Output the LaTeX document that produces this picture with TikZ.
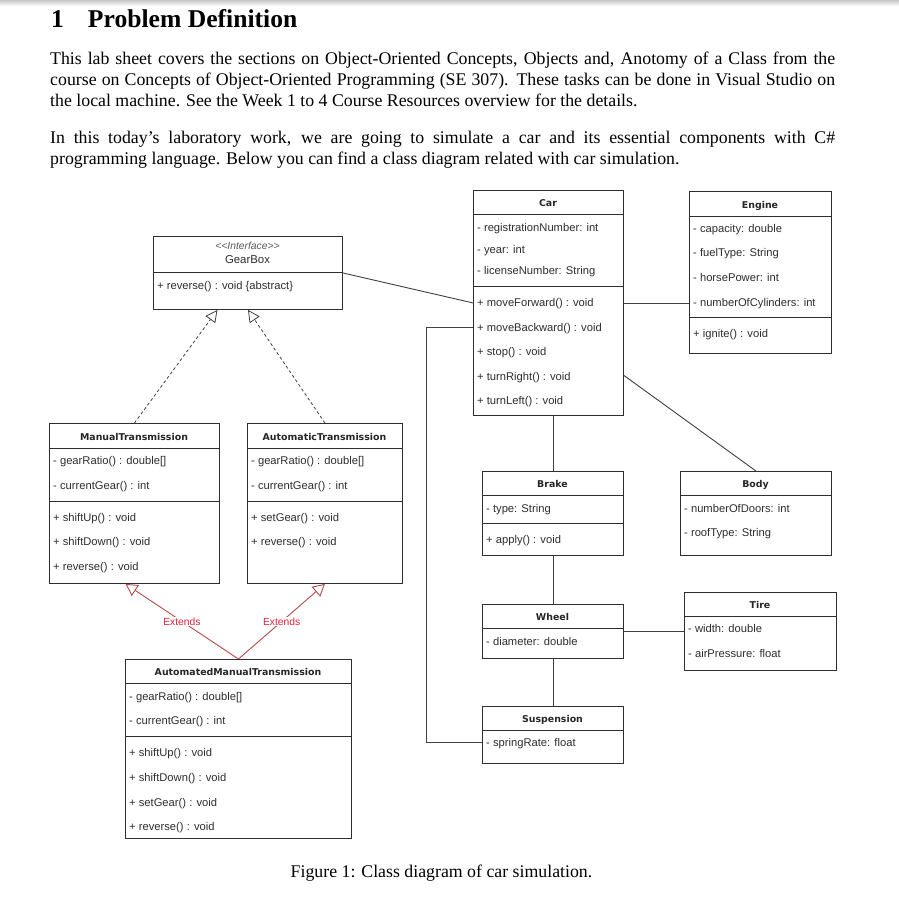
\documentclass[tikz,border=0pt]{standalone}
\usepackage{fontspec}
\setmainfont{Liberation Serif}
\setsansfont{Liberation Sans}
\newfontfamily\hdrfont{DejaVu Sans}
\usetikzlibrary{arrows.meta}
\definecolor{ink}{HTML}{2E2E2E}
\definecolor{lineg}{HTML}{404040}
\definecolor{extline}{HTML}{B84A4A}
\definecolor{exttext}{HTML}{D9243A}
\newcounter{tn}
\newcommand\tline[3]{\stepcounter{tn}\node[attr] (t\arabic{tn}) at (#1,#2+4) {#3};}
\newcommand\cbox[5]{\node[classbox, minimum width={#4-#2}, minimum height={#5-#3}] (#1) at (#2,#3) {};}
\begin{document}
\begin{tikzpicture}[x=1pt,y=-1pt,
  classbox/.style={draw=ink, line width=0.9pt, inner sep=0pt, anchor=north west, fill=white},
  attr/.style={anchor=base west, inner sep=0pt, text=ink, font=\sffamily\fontsize{11.2}{13}\selectfont},
  hdr/.style={anchor=base, inner sep=0pt, text=black!85, font=\hdrfont\bfseries\fontsize{9.4}{11}\selectfont},
  sepline/.style={draw=ink, line width=0.8pt},
  assoc/.style={draw=lineg, line width=0.9pt},
  realize/.style={draw=lineg, line width=0.8pt, dash pattern=on 3pt off 2.5pt, -{Triangle[length=12pt,width=12pt,fill=white]}},
  extends/.style={draw=extline, line width=0.9pt, -{Triangle[length=12pt,width=13pt,fill=white]}},
  extlbl/.style={fill=white, inner sep=1pt, text=exttext, font=\sffamily\fontsize{10.3}{12}\selectfont},
  bodyt/.style={anchor=base west, inner sep=0pt, font=\fontsize{17.8}{21}\selectfont}
]
\useasboundingbox (0,0) rectangle (899,905);
\fill[white] (0,0) rectangle (899,905);
\shade[top color=black!22, bottom color=white] (0,0) rectangle (899,6);

% ---------- text ----------
\node[anchor=base west, inner sep=0pt, font=\bfseries\fontsize{25.6}{30}\selectfont] (title) at (51,27) {1\hspace{24pt}Problem Definition};
\node[bodyt] (p1) at (50,64) {\makebox[785pt][s]{This lab sheet covers the sections on Object-Oriented Concepts, Objects and, Anotomy of a Class from the}};
\node[bodyt] (p2) at (50,85) {\makebox[785pt][s]{course on Concepts of Object-Oriented Programming (SE 307). These tasks can be done in Visual Studio on}};
\node[bodyt] (p3) at (50,106) {the local machine. See the Week 1 to 4 Course Resources overview for the details.};
\node[bodyt] (p4) at (50,143) {\makebox[785pt][s]{In this today’s laboratory work, we are going to simulate a car and its essential components with C\#}};
\node[bodyt] (p5) at (50,164) {programming language. Below you can find a class diagram related with car simulation.};
\node[bodyt, anchor=base] (cap) at (441.5,877) {Figure 1: Class diagram of car simulation.};

% ---------- classes ----------
% GearBox
\cbox{gearbox}{153}{236}{342}{309}
\draw[sepline] (153,272) -- (342,272);
\node[anchor=base, inner sep=0pt, text=black!65, font=\sffamily\itshape\fontsize{10.3}{11}\selectfont] (gbst) at (247.5,249.5) {{<}{<}Interface{>}{>}};
\node[anchor=base, inner sep=0pt, text=ink, font=\sffamily\fontsize{11.4}{13}\selectfont] (gbname) at (247.5,263.5) {GearBox};
\tline{157}{285}{+ reverse() : void \{abstract\}}

% Car
\cbox{car}{473}{190}{623}{415}
\draw[sepline] (473,214) -- (623,214);
\draw[sepline] (473,286) -- (623,286);
\node[hdr] (carh) at (548,206.5) {Car};
\tline{477}{227}{- registrationNumber: int}
\tline{477}{249}{- year: int}
\tline{477}{270}{- licenseNumber: String}
\tline{477}{302}{+ moveForward() : void}
\tline{477}{327}{+ moveBackward() : void}
\tline{477}{351}{+ stop() : void}
\tline{477}{376}{+ turnRight() : void}
\tline{477}{400}{+ turnLeft() : void}

% Engine
\cbox{engine}{689}{191}{831}{353}
\draw[sepline] (689,216) -- (831,216);
\draw[sepline] (689,317) -- (831,317);
\node[hdr] (engh) at (760,208) {Engine};
\tline{693}{228}{- capacity: double}
\tline{693}{252}{- fuelType: String}
\tline{693}{277}{- horsePower: int}
\tline{693}{302}{- numberOfCylinders: int}
\tline{693}{333}{+ ignite() : void}

% ManualTransmission
\cbox{manual}{49}{423}{219}{583}
\draw[sepline] (49,448) -- (219,448);
\draw[sepline] (49,501) -- (219,501);
\node[hdr] (manh) at (134,440) {ManualTransmission};
\tline{53}{460}{- gearRatio() : double[]}
\tline{53}{485}{- currentGear() : int}
\tline{53}{517}{+ shiftUp() : void}
\tline{53}{541}{+ shiftDown() : void}
\tline{53}{566}{+ reverse() : void}

% AutomaticTransmission
\cbox{auto}{247}{423}{402}{583}
\draw[sepline] (247,448) -- (402,448);
\draw[sepline] (247,501) -- (402,501);
\node[hdr] (autoh) at (324.5,440) {AutomaticTransmission};
\tline{251}{460}{- gearRatio() : double[]}
\tline{251}{485}{- currentGear() : int}
\tline{251}{517}{+ setGear() : void}
\tline{251}{541}{+ reverse() : void}

% Brake
\cbox{brake}{482}{471}{623}{555}
\draw[sepline] (482,495) -- (623,495);
\draw[sepline] (482,523) -- (623,523);
\node[hdr] (brkh) at (552.5,487) {Brake};
\tline{486}{508}{- type: String}
\tline{486}{539}{+ apply() : void}

% Body
\cbox{body}{680}{471}{831}{555}
\draw[sepline] (680,495) -- (831,495);
\node[hdr] (bodh) at (755.5,487) {Body};
\tline{684}{508}{- numberOfDoors: int}
\tline{684}{532}{- roofType: String}

% Wheel
\cbox{wheel}{482}{604}{623}{658}
\draw[sepline] (482,628) -- (623,628);
\node[hdr] (whlh) at (552.5,620) {Wheel};
\tline{486}{641}{- diameter: double}

% Tire
\cbox{tire}{684}{592}{836}{670}
\draw[sepline] (684,616) -- (836,616);
\node[hdr] (tirh) at (760,608) {Tire};
\tline{688}{628}{- width: double}
\tline{688}{653}{- airPressure: float}

% Suspension
\cbox{susp}{482}{706}{623}{763}
\draw[sepline] (482,730) -- (623,730);
\node[hdr] (susph) at (552.5,722) {Suspension};
\tline{486}{742}{- springRate: float}

% AutomatedManualTransmission
\cbox{amt}{125}{659}{351}{838}
\draw[sepline] (125,683) -- (351,683);
\draw[sepline] (125,736) -- (351,736);
\node[hdr] (amth) at (238,675) {AutomatedManualTransmission};
\tline{129}{696}{- gearRatio() : double[]}
\tline{129}{720}{- currentGear() : int}
\tline{129}{752}{+ shiftUp() : void}
\tline{129}{777}{+ shiftDown() : void}
\tline{129}{802}{+ setGear() : void}
\tline{129}{826}{+ reverse() : void}

% ---------- connectors ----------
\draw[assoc] (gearbox.east) -- (car.west);
\draw[assoc] (car.east) -- (car.east -| engine.west);
\draw[assoc] ([yshift=-24.5pt]car.west) -- ++(-47,0) |- ([yshift=-7.5pt]susp.west);
\draw[assoc] (brake.north |- car.south) -- (brake.north);
\draw[assoc] ([yshift=-72.5pt]car.east) -- (body.north);
\draw[assoc] (brake.south) -- (wheel.north);
\draw[assoc] (wheel.south) -- (susp.north);
\draw[assoc] (wheel.east) -- (wheel.east -| tire.west);
\draw[realize] (manual.north) -- ([xshift=-30.5pt]gearbox.south);
\draw[realize] (auto.north) -- (gearbox.south);
\draw[extends] (amt.north) -- node[extlbl] (ext1) {Extends} ([xshift=-9pt]manual.south);
\draw[extends] (amt.north) -- node[extlbl] (ext2) {Extends} (auto.south);
\end{tikzpicture}
\end{document}
